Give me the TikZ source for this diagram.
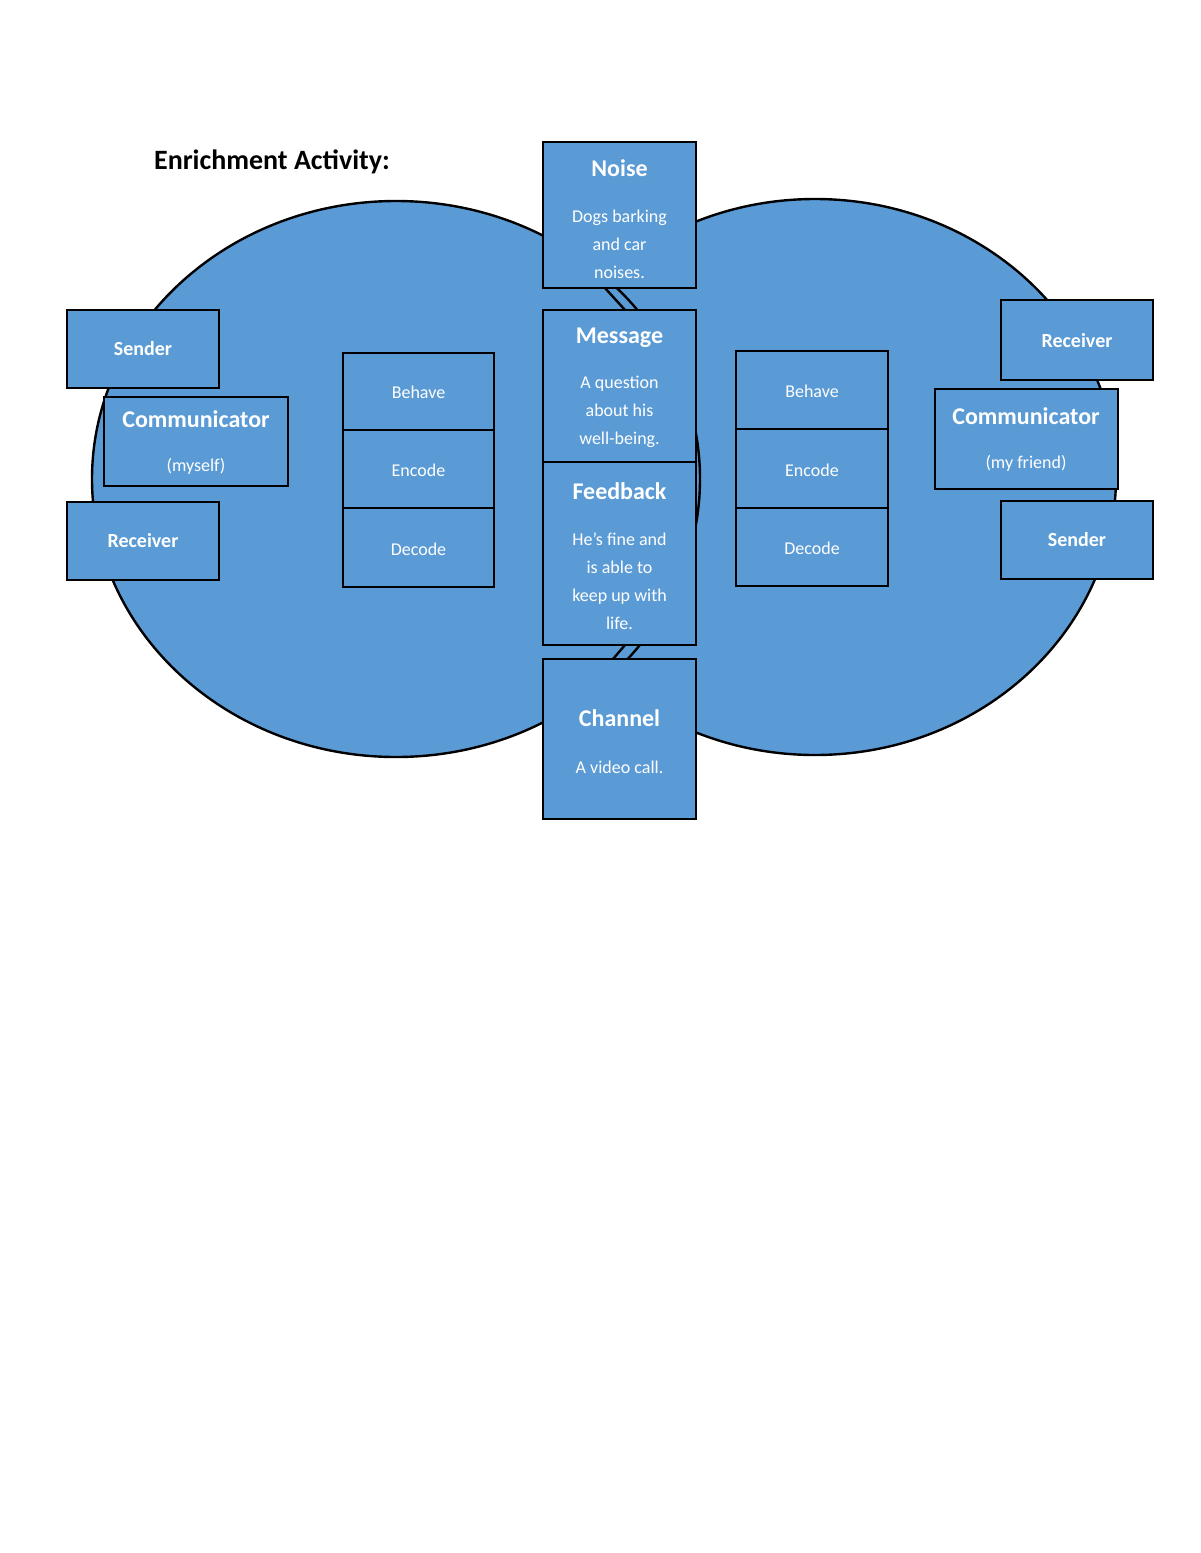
\documentclass[tikz,border=0pt]{standalone}
\usepackage{fontspec}
\setmainfont{Carlito}
\definecolor{bl}{HTML}{5B9BD5}
\begin{document}
\begin{tikzpicture}[x=0.5pt,y=-0.5pt,
  bx/.style={draw=black,line width=1.2pt,fill=bl},
  hd/.style={text=white,font=\bfseries\fontsize{12}{14}\selectfont},
  tx/.style={text=white,font=\fontsize{9}{14}\selectfont,align=center},
  lb/.style={text=white,font=\bfseries\fontsize{10}{12}\selectfont}]
\useasboundingbox (0,0) rectangle (1200,1553);
\fill[white] (0,0) rectangle (1200,1553);
\draw[bx] (815,477) ellipse [x radius=301, y radius=278];
\draw[bx] (396,479) ellipse [x radius=304, y radius=278];
\node[font=\bfseries\fontsize{14}{16}\selectfont] (title) at (272,162) {Enrichment Activity:};
% centre column
\draw[bx] (543,142) rectangle (696,288); \coordinate (nb) at (605,288);
\node[hd] (noise) at (619.5,168) {Noise};
\node[tx] (noiset) at (619.5,244) {Dogs barking\\and car\\noises.};
\draw[bx] (543,310) rectangle (696,462); \coordinate (mt) at (625,310);
\node[hd] (msg) at (619.5,338) {Message};
\node[tx] (msgt) at (619.5,412) {A question\\about his\\well-being.};
\draw[bx] (543,462) rectangle (696,645); \coordinate (fb) at (625,645);
\node[hd] (fbk) at (619.5,491) {Feedback};
\node[tx] (fbkt) at (619.5,581) {He’s fine and\\is able to\\keep up with\\life.};
\draw[bx] (543,659) rectangle (696,819); \coordinate (ct) at (613,659);
\node[hd] (chn) at (619.5,718) {Channel};
\node[tx] (chnt) at (619.5,767) {A video call.};
\draw[line width=1.2pt] (nb) -- (mt);
\draw[line width=1.2pt] (fb) -- (ct);
% left side
\draw[bx] (67,310) rectangle (219,388); \node[lb] (sl) at (143,349) {Sender};
\draw[bx] (104,397) rectangle (288,486);
\node[hd] (cl) at (196,419) {Communicator};
\node[tx] (clt) at (196,466) {(myself)};
\draw[bx] (67,502) rectangle (219,580); \node[lb] (rl) at (143,541) {Receiver};
\draw[bx] (343,353) rectangle (494,430); \node[tx] (bl1) at (418.5,392) {Behave};
\draw[bx] (343,430) rectangle (494,508); \node[tx] (el1) at (418.5,470) {Encode};
\draw[bx] (343,508) rectangle (494,587); \node[tx] (dl1) at (418.5,549) {Decode};
% right side
\draw[bx] (736,351) rectangle (888,429); \node[tx] (br1) at (812,391) {Behave};
\draw[bx] (736,429) rectangle (888,508); \node[tx] (er1) at (812,470) {Encode};
\draw[bx] (736,508) rectangle (888,586); \node[tx] (dr1) at (812,548) {Decode};
\draw[bx] (1001,300) rectangle (1153,380); \node[lb] (rr) at (1077,341) {Receiver};
\draw[bx] (935,389) rectangle (1118,489);
\node[hd] (cr) at (1026,416) {Communicator};
\node[tx] (crt) at (1026,463) {(my friend)};
\draw[bx] (1001,501) rectangle (1153,579); \node[lb] (sr) at (1077,540) {Sender};
\end{tikzpicture}
\end{document}
